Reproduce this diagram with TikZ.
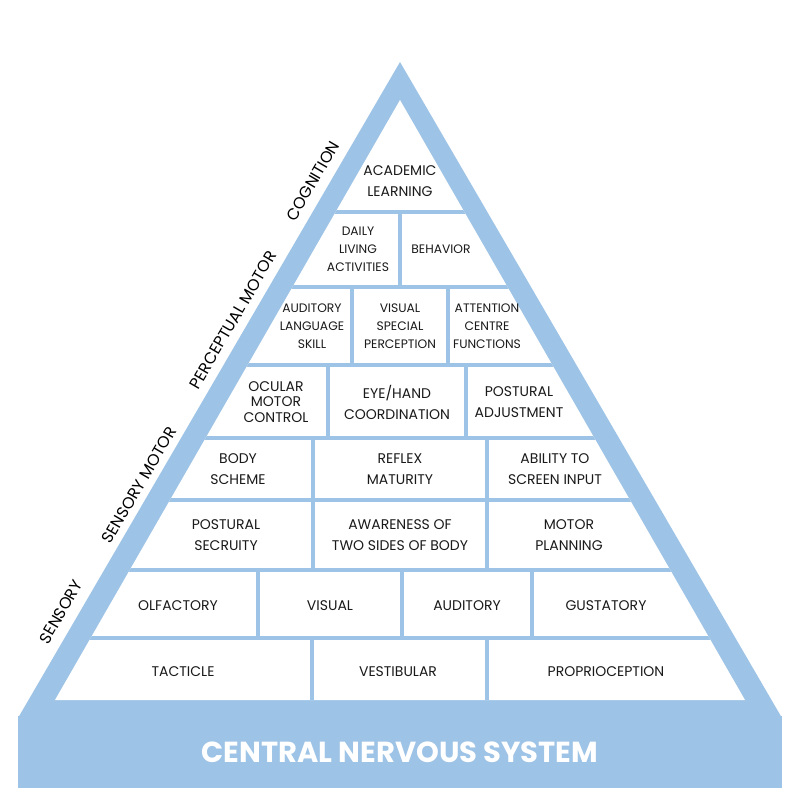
\documentclass[tikz,border=0pt]{standalone}
\usepackage{fontspec}
\setmainfont{Poppins}
\definecolor{pb}{HTML}{9DC3E6}
\definecolor{tx}{HTML}{1A1A1A}
\begin{document}
\begin{tikzpicture}[x=1pt,y=-1pt,
  lbl/.style={text=tx,align=center,inner sep=1pt},
  big/.style={lbl,font=\fontsize{14}{21}\selectfont},
  bigt/.style={lbl,font=\fontsize{14}{16}\selectfont},
  sml/.style={lbl,font=\fontsize{12.3}{18}\selectfont},
  side/.style={font=\fontsize{16}{18}\selectfont,text=black,rotate=59.8},
  div/.style={draw=pb,line width=3.5pt}]
\useasboundingbox (0,0) rectangle (800,800);
\fill[pb] (18,718) -- (400,62) -- (782,718) -- cycle;
\fill[pb] (18,716) rectangle (782,788);
\coordinate (A) at (400,100);
\coordinate (L) at (55,700);
\coordinate (R) at (745,700);
\fill[white] (L) -- (A) -- (R) -- cycle;
\begin{scope}
\clip (L) -- (A) -- (R) -- cycle;
\foreach \y in {212,287,365,438,500,570,638} \draw[div] (0,\y) -- (800,\y);
\draw[div] (400,212) -- (400,287);
\draw[div] (352,287) -- (352,365); \draw[div] (448,287) -- (448,365);
\draw[div] (328,365) -- (328,438); \draw[div] (466,365) -- (466,438);
\draw[div] (313,438) -- (313,570); \draw[div] (487,438) -- (487,570);
\draw[div] (258,570) -- (258,638); \draw[div] (402,570) -- (402,638); \draw[div] (532,570) -- (532,638);
\draw[div] (312,638) -- (312,700); \draw[div] (487,638) -- (487,700);
\end{scope}
\node[big] (n1) at (400,181) {ACADEMIC\\LEARNING};
\node[sml] (n2) at (358,249) {DAILY\\LIVING\\ACTIVITIES};
\node[sml] (n3) at (441,249) {BEHAVIOR};
\node[sml] (n4) at (312,326) {AUDITORY\\LANGUAGE\\SKILL};
\node[sml] (n5) at (400,326) {VISUAL\\SPECIAL\\PERCEPTION};
\node[sml] (n6) at (487,326) {ATTENTION\\CENTRE\\FUNCTIONS};
\node[lbl,font=\fontsize{14}{15.5}\selectfont] (n7) at (276,402) {OCULAR\\MOTOR\\CONTROL};
\node[big] (n8) at (397,402) {EYE/HAND\\COORDINATION};
\node[big] (n9) at (519,402) {POSTURAL\\ADJUSTMENT};
\node[big] (n10) at (238,469) {BODY\\SCHEME};
\node[big] (n11) at (400,469) {REFLEX\\MATURITY};
\node[big] (n12) at (555,469) {ABILITY TO\\SCREEN INPUT};
\node[big] (n13) at (226,535) {POSTURAL\\SECRUITY};
\node[big] (n14) at (400,535) {AWARENESS OF\\TWO SIDES OF BODY};
\node[big] (n15) at (569,535) {MOTOR\\PLANNING};
\node[bigt] (n16) at (178,606) {OLFACTORY};
\node[bigt] (n17) at (330,606) {VISUAL};
\node[bigt] (n18) at (467,606) {AUDITORY};
\node[bigt] (n19) at (606,606) {GUSTATORY};
\node[bigt] (n20) at (183,672) {TACTICLE};
\node[bigt] (n21) at (398,672) {VESTIBULAR};
\node[bigt] (n22) at (606,672) {PROPRIOCEPTION};
\node[font=\fontsize{29}{34}\selectfont\bfseries,text=white] (cns) at (400,752) {CENTRAL NERVOUS SYSTEM};
\node[side] (s1) at (313,181) {COGNITION};
\node[side] (s2) at (233,320) {PERCEPTUAL MOTOR};
\node[side] (s3) at (139,485) {SENSORY MOTOR};
\node[side] (s4) at (61,612) {SENSORY};
\end{tikzpicture}
\end{document}
